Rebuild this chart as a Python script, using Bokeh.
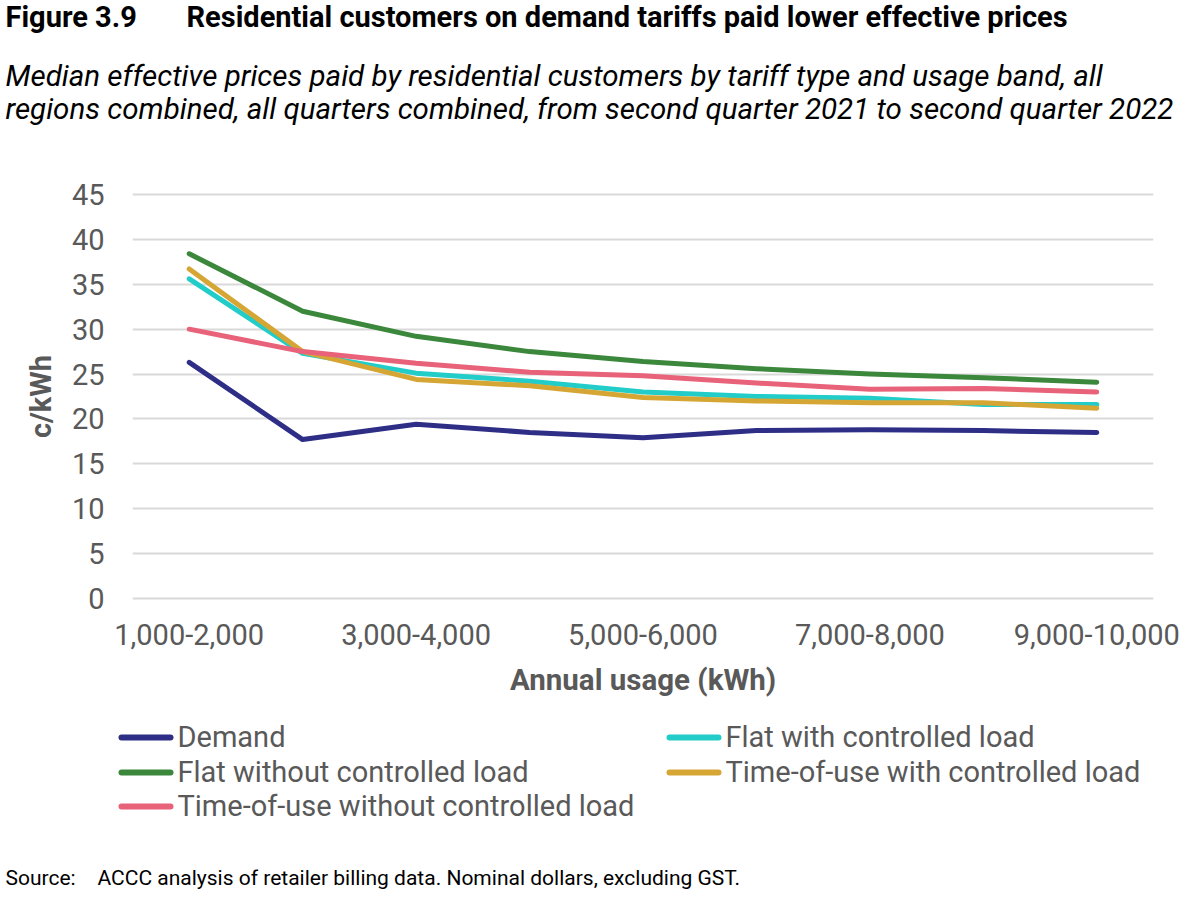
from bokeh.plotting import figure
from bokeh.layouts import column
from bokeh.models import Range1d, FixedTicker, Label
from bokeh.embed import file_html
from bokeh.resources import INLINE

# Usage bands (kWh per year)
bands = ["1,000-2,000", "2,000-3,000", "3,000-4,000", "4,000-5,000", "5,000-6,000",
         "6,000-7,000", "7,000-8,000", "8,000-9,000", "9,000-10,000"]

# Median effective prices, c/kWh
demand = [26.3, 17.7, 19.4, 18.5, 17.9, 18.7, 18.8, 18.7, 18.5]
flat_with_cl = [35.6, 27.3, 25.1, 24.2, 23.0, 22.5, 22.3, 21.6, 21.6]
flat_without_cl = [38.4, 32.0, 29.2, 27.5, 26.4, 25.6, 25.0, 24.6, 24.1]
tou_with_cl = [36.7, 27.5, 24.4, 23.7, 22.4, 22.0, 21.8, 21.8, 21.2]
tou_without_cl = [30.0, 27.5, 26.2, 25.2, 24.8, 24.0, 23.3, 23.4, 23.0]

y_ticks = [0, 5, 10, 15, 20, 25, 30, 35, 40, 45]

series_names = ["Demand", "Flat with controlled load", "Flat without controlled load",
                "Time-of-use with controlled load", "Time-of-use without controlled load"]
series_values = [demand, flat_with_cl, flat_without_cl, tou_with_cl, tou_without_cl]
series_colors = ["#2e2e87", "#22ccc8", "#3b873b", "#d6a634", "#e8627a"]

FONT = "Roboto"
GREY = "#595959"
W = 1188

# Page bands (canvas pixels from the top)
TOP_H = 170          # headings
MAIN_H = 490         # chart with axes
BOT_H = 900 - TOP_H - MAIN_H  # axis title, legend, source


def no_frame_align(f):
    # keep each figure's frame independent inside the column
    try:
        f.frame_align = False
    except AttributeError:
        pass


def blank_panel(height, y_offset):
    """A borderless figure whose data units are page pixels (y grows downward)."""
    f = figure(width=W, height=height, output_backend="svg", toolbar_location=None,
               x_range=Range1d(0, W), y_range=Range1d(y_offset + height, y_offset),
               min_border=0, x_axis_type=None, y_axis_type=None)
    f.outline_line_color = None
    f.grid.visible = False
    f.background_fill_color = "white"
    f.border_fill_color = "white"
    no_frame_align(f)
    return f


def text(f, s, x, baseline_y, size_px, style="normal", color="black", align="left"):
    # the renderer sits alphabetic text about a third of an em low; lift it back
    f.add_layout(Label(x=x, y=baseline_y - 0.35 * size_px, text=s, text_font=FONT,
                       text_font_size=f"{size_px}px", text_font_style=style,
                       text_color=color, text_align=align,
                       text_baseline="alphabetic"))


# ---- headings ----
top = blank_panel(TOP_H, 0)
text(top, "Figure 3.9", 5, 27, 29, style="bold")
text(top, "Residential customers on demand tariffs paid lower effective prices",
     186, 27, 29, style="bold")
text(top, "Median effective prices paid by residential customers by tariff type and usage band, all",
     5, 86, 29.5, style="italic")
text(top, "regions combined, all quarters combined, from second quarter 2021 to second quarter 2022",
     5, 119, 29.5, style="italic")

# ---- chart ----
FRAME_TOP, FRAME_BOTTOM = 190, 602    # page pixels
LEFT, RIGHT = 132, 35
Y45, Y0 = 194, 598                    # page pixels of the 45 and 0 gridlines
ppu = (Y0 - Y45) / 45.0
y_lo = -(FRAME_BOTTOM - Y0) / ppu
y_hi = 45 + (Y45 - FRAME_TOP) / ppu

p = figure(width=W, height=MAIN_H, output_backend="svg", toolbar_location=None,
           x_range=Range1d(0.5, len(bands) + 0.5), y_range=Range1d(y_lo, y_hi),
           min_border_left=LEFT, min_border_right=RIGHT,
           min_border_top=FRAME_TOP - TOP_H,
           min_border_bottom=TOP_H + MAIN_H - FRAME_BOTTOM)
p.outline_line_color = None
p.background_fill_color = "white"
p.border_fill_color = "white"
no_frame_align(p)

xs = list(range(1, len(bands) + 1))
for vals, color in zip(series_values, series_colors):
    p.line(xs, vals, line_color=color, line_width=5, line_cap="round", line_join="round")

p.xaxis.ticker = FixedTicker(ticks=xs[::2])
p.xaxis.major_label_overrides = {x: bands[x - 1] for x in xs[::2]}
p.yaxis.ticker = FixedTicker(ticks=y_ticks)
for ax in (p.xaxis[0], p.yaxis[0]):
    ax.axis_line_color = None
    ax.major_tick_line_color = None
    ax.minor_tick_line_color = None
    ax.major_tick_out = 0
    ax.major_tick_in = 0
    ax.minor_tick_out = 0
    ax.major_label_text_font = FONT
    ax.major_label_text_font_size = "29px"
    ax.major_label_text_color = GREY
p.yaxis.major_label_standoff = 28
p.xaxis.major_label_standoff = 21

p.yaxis.axis_label = "c/kWh"
p.yaxis.axis_label_text_font = FONT
p.yaxis.axis_label_text_font_size = "29px"
p.yaxis.axis_label_text_font_style = "bold"
p.yaxis.axis_label_text_color = GREY
p.yaxis.axis_label_standoff = 11

p.xgrid.grid_line_color = None
p.ygrid.grid_line_color = "#d9d9d9"
p.ygrid.grid_line_width = 2

# ---- axis title, legend and source ----
bot = blank_panel(BOT_H, TOP_H + MAIN_H)
text(bot, "Annual usage (kWh)", (LEFT + W - RIGHT) / 2, 690, 29.5, style="bold",
     color=GREY, align="center")

# legend: two columns, filled row by row
col_x = [118, 666]
row_y = [737, 772, 806]
swatch_w = 55
cap = 3  # round caps add half the line width at each end
for i, (name, color) in enumerate(zip(series_names, series_colors)):
    cx = col_x[i % 2]
    cy = row_y[i // 2]
    bot.segment(x0=[cx + cap], y0=[cy], x1=[cx + swatch_w - cap], y1=[cy],
                line_color=color, line_width=6, line_cap="round")
    text(bot, name, cx + swatch_w + 4, cy + 10, 29, color=GREY)

text(bot, "Source:", 5, 885, 21)
text(bot, "ACCC analysis of retailer billing data. Nominal dollars, excluding GST.",
     97, 885, 21)

layout = column(top, p, bot, spacing=0)
open("out.html", "w").write(file_html(layout, INLINE))
